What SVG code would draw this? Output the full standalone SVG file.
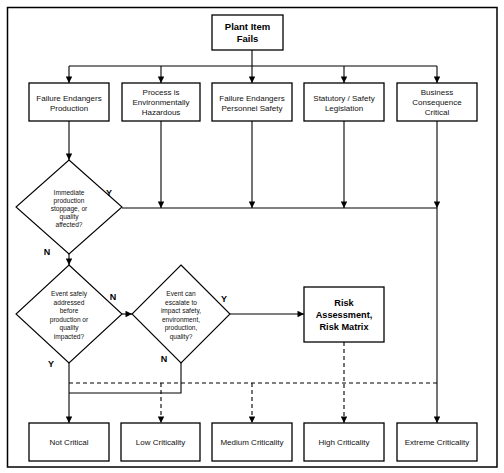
<svg xmlns="http://www.w3.org/2000/svg" width="504" height="473" viewBox="0 0 504 473">
<defs>
<marker id="ah" viewBox="0 0 8 8" refX="8" refY="4" markerWidth="7" markerHeight="6.5" markerUnits="userSpaceOnUse" orient="auto">
<path d="M0,0 L8,4 L0,8 Z" fill="#000"/>
</marker>
</defs>
<style>
.box{fill:#fff;stroke:#000;stroke-width:1.3}
.dia{fill:#fff;stroke:#000;stroke-width:1.1}
.t{font-family:"Liberation Sans",Arial,sans-serif;font-size:8px;fill:#111;text-anchor:middle}
.d{font-family:"Liberation Sans",Arial,sans-serif;font-size:6.6px;fill:#111;text-anchor:middle}
.b{font-family:"Liberation Sans",Arial,sans-serif;font-size:9.5px;font-weight:bold;fill:#000;text-anchor:middle}
.r{font-family:"Liberation Sans",Arial,sans-serif;font-size:9.2px;font-weight:bold;fill:#000;text-anchor:middle}
.l{font-family:"Liberation Sans",Arial,sans-serif;font-size:9px;font-weight:bold;fill:#000;text-anchor:middle}
.c{fill:none;stroke:#000;stroke-width:1.1}
.a{marker-end:url(#ah)}
.dash{stroke-dasharray:4 3}
</style>
<rect x="0" y="0" width="504" height="473" fill="#fff"/>
<rect x="7.5" y="7.5" width="489.5" height="459.5" fill="none" stroke="#000" stroke-width="1.5"/>

<g id="connectors">
<path class="c" d="M69 66 H437"/>
<path class="c a" d="M252 50 V83"/>
<path class="c a" d="M69 66 V83"/>
<path class="c a" d="M161 66 V83"/>
<path class="c a" d="M344 66 V83"/>
<path class="c a" d="M437 66 V83"/>
<path class="c a" d="M69 121 V160"/>
<path class="c a" d="M161 121 V208"/>
<path class="c a" d="M252 121 V208"/>
<path class="c a" d="M344 121 V208"/>
<path class="c a" d="M437 121 V208"/>
<path class="c" d="M122 208 H437"/>
<path class="c a" d="M437 208 V423"/>
<path class="c a" d="M69 254 V265"/>
<path class="c a" d="M122 314 H132"/>
<path class="c a" d="M230 314 H304"/>
<path class="c a" d="M69 363 V423"/>
<path class="c" d="M181 363 V393 H69"/>
<path class="c dash" d="M69 383 H437"/>
<path class="c dash a" d="M161 383 V423"/>
<path class="c dash a" d="M252 383 V423"/>
<path class="c dash a" d="M344 342 V423"/>
</g>

<g id="plant">
<rect class="box" x="212" y="15" width="71" height="35"/>
<text class="b" x="247.5" y="30">Plant Item</text>
<text class="b" x="247.5" y="42">Fails</text>
</g>

<g id="production">
<rect class="box" x="29" y="83" width="80" height="38"/>
<text class="t" x="69" y="101">Failure Endangers</text>
<text class="t" x="69" y="110.5">Production</text>
</g>
<g id="environment">
<rect class="box" x="122" y="83" width="78" height="38"/>
<text class="t" x="161" y="94.5">Process is</text>
<text class="t" x="161" y="104.5">Environmentally</text>
<text class="t" x="161" y="115">Hazardous</text>
</g>
<g id="personnel">
<rect class="box" x="212" y="83" width="80" height="38"/>
<text class="t" x="252" y="101">Failure Endangers</text>
<text class="t" x="252" y="110.5">Personnel Safety</text>
</g>
<g id="statutory">
<rect class="box" x="304" y="83" width="80" height="38"/>
<text class="t" x="344" y="101">Statutory / Safety</text>
<text class="t" x="344" y="110.5">Legislation</text>
</g>
<g id="business">
<rect class="box" x="397" y="83" width="80" height="38"/>
<text class="t" x="437" y="94.5">Business</text>
<text class="t" x="437" y="104.5">Consequence</text>
<text class="t" x="437" y="115">Critical</text>
</g>

<g id="d1">
<polygon class="dia" points="69,160 122,207 69,254 16,207"/>
<text class="d" x="69" y="195">Immediate</text>
<text class="d" x="69" y="203">production</text>
<text class="d" x="69" y="211">stoppage, or</text>
<text class="d" x="69" y="219">quality</text>
<text class="d" x="69" y="227">affected?</text>
<text class="l" x="109" y="196">Y</text>
<text class="l" x="47" y="255">N</text>
</g>

<g id="d2">
<polygon class="dia" points="69,265 122,314 69,363 16,314"/>
<text class="d" x="69" y="296">Event safely</text>
<text class="d" x="69" y="304.5">addressed</text>
<text class="d" x="69" y="313">before</text>
<text class="d" x="69" y="321.5">production or</text>
<text class="d" x="69" y="330">quality</text>
<text class="d" x="69" y="338.5">impacted?</text>
<text class="l" x="113" y="300">N</text>
<text class="l" x="51" y="367">Y</text>
</g>

<g id="d3">
<polygon class="dia" points="181,265 230,314 181,363 132,314"/>
<text class="d" x="181" y="296">Event can</text>
<text class="d" x="181" y="304.5">escalate to</text>
<text class="d" x="181" y="313">impact safety,</text>
<text class="d" x="181" y="321.5">environment,</text>
<text class="d" x="181" y="330">production,</text>
<text class="d" x="181" y="338.5">quality?</text>
<text class="l" x="224" y="302">Y</text>
<text class="l" x="164" y="362">N</text>
</g>

<g id="risk">
<rect class="box" x="304" y="287" width="80" height="55"/>
<text class="r" x="344" y="306">Risk</text>
<text class="r" x="344" y="318">Assessment,</text>
<text class="r" x="344" y="330">Risk Matrix</text>
</g>

<g id="notcritical">
<rect class="box" x="29" y="423" width="80" height="38"/>
<text class="t" x="69" y="445">Not Critical</text>
</g>
<g id="low">
<rect class="box" x="121" y="423" width="79" height="38"/>
<text class="t" x="160.5" y="445">Low Criticality</text>
</g>
<g id="medium">
<rect class="box" x="212" y="423" width="80" height="38"/>
<text class="t" x="252" y="445">Medium Criticality</text>
</g>
<g id="high">
<rect class="box" x="304" y="423" width="80" height="38"/>
<text class="t" x="344" y="445">High Criticality</text>
</g>
<g id="extreme">
<rect class="box" x="397" y="423" width="80" height="38"/>
<text class="t" x="437" y="445">Extreme Criticality</text>
</g>
</svg>
